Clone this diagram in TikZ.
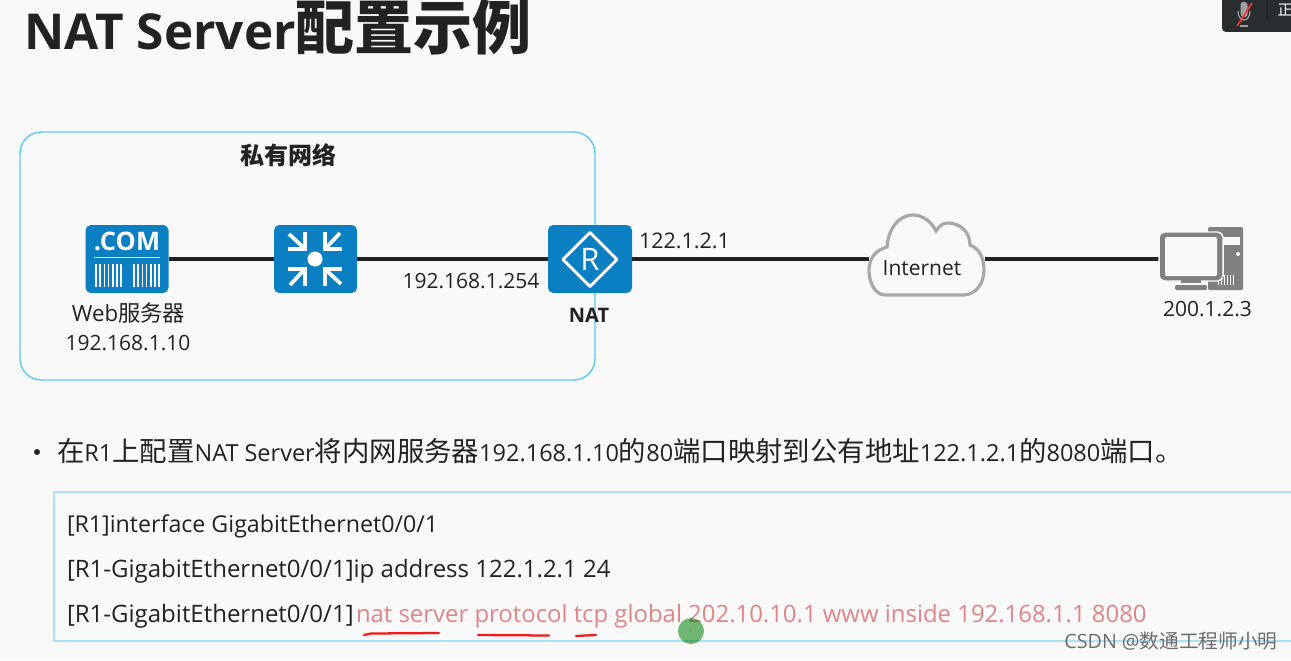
\documentclass[tikz,border=0pt]{standalone}
\usepackage{fontspec}
\setmainfont{Open Sans}
\newfontfamily\cjk{Noto Sans CJK SC}
\newcommand{\fsz}[1]{\fontsize{\dimexpr #1pt*3/4\relax}{\dimexpr #1pt*9/10\relax}\selectfont}
\definecolor{bgc}{HTML}{F9F9F9}
\definecolor{ink}{HTML}{222222}
\definecolor{iconblue}{HTML}{0A7FC1}
\definecolor{framec}{HTML}{5CCBF5}
\definecolor{codeframe}{HTML}{A9E2F8}
\definecolor{cloudc}{HTML}{A8A8A8}
\definecolor{pcgray}{HTML}{808080}
\definecolor{redtext}{HTML}{E08585}
\definecolor{penred}{HTML}{F01A1A}
\definecolor{panel}{HTML}{2A2D30}
\tikzset{
  lbl/.style={inner sep=0pt,outer sep=0pt,text=ink,anchor=base west},
  clbl/.style={inner sep=0pt,outer sep=0pt,text=ink,anchor=base},
  iconbox/.style={fill=iconblue,rounded corners=4,inner sep=0pt,minimum width=62.25pt,minimum height=51pt},
  link/.style={draw=ink,line width=2.4},
  whitebar/.style={draw=white,line width=1.1},
  swarrow/.style={draw=white,line width=2.8},
  penline/.style={draw=penred,line width=1.7,line cap=round},
}
\begin{document}
\begin{tikzpicture}[x=0.75pt,y=-0.75pt]
\useasboundingbox (0,0) rectangle (1291,660);
\clip (0,0) rectangle (1291,660);
\fill[bgc] (0,0) rectangle (1291,660);
% title
\node[lbl] (title) at (24.5,50) {\fsz{49.5}\bfseries NAT Server{\cjk\fsz{59}配置示例}};
% top-right panel
\fill[panel,rounded corners=3] (1222,-10) rectangle (1301,32);
\draw[black!85,line width=0.8] (1267,0) -- (1267,22);
\fill[gray!75,rounded corners=2] (1240.5,2) rectangle (1247.5,17);
\draw[gray!75,line width=0.9] (1238,11) .. controls (1238,23) and (1250,23) .. (1250,11);
\draw[gray!75,line width=1.1] (1240,26) -- (1248,26);
\draw[red!80!white,line width=1.2] (1237,26) -- (1252,3);
\node[inner sep=0pt,text=white] (panelchar) at (1285,10) {\cjk\fsz{15}正};
% private network frame
\node[draw=framec,line width=1.1,rounded corners=16,minimum width=431.25pt,minimum height=186pt,inner sep=0pt] (private) at (307.5,256) {};
\node[clbl] (privlabel) at (288,164) {\cjk\bfseries\fsz{24}私有网络};
% nodes
\node[iconbox] (web) at (127,259) {};
\node[iconbox] (sw) at (315.5,259) {};
\node[iconbox,minimum width=63pt] (nat) at (590,259) {};
\node[inner sep=0pt,minimum width=87pt,minimum height=60pt] (cloud) at (927,259) {};
\node[inner sep=0pt,minimum width=62.25pt,minimum height=47pt] (pc) at (1201.5,259) {};
% connectors
\draw[link] (web) -- (sw);
\draw[link] (sw) -- (nat);
\draw[link] (nat) -- (cloud);
\draw[link] (cloud) -- (pc);
% web icon
\node[inner sep=0pt,text=white] (comtxt) at (127,241) {\bfseries\fsz{25.5}.COM};
\draw[draw=white!85!iconblue,line width=1.2] (94,257.5) -- (160,257.5);
\foreach \x in {96,100.2,104.4,108.6,112.8,117,121.2,134,138.2,142.4,146.6,150.8,155,159.2}{
  \draw[whitebar] (\x,264) -- (\x,287);
}
% switch icon
\fill[white] (315,259) circle (7.5);
\foreach \r in {0,90,180,270}{
  \begin{scope}[shift={(315,259)},rotate=\r]
    \draw[swarrow,line join=miter] (-27,-10) -- (-10,-10) -- (-10,-27);
    \draw[swarrow] (-11,-11) -- (-26,-25);
  \end{scope}
}
% NAT icon
\draw[white,line width=2.2,line join=round] (590,232.5) -- (617,259.5) -- (590,286.5) -- (563,259.5) -- cycle;
\node[inner sep=0pt,text=white] (rtxt) at (590,259.5) {\fsz{31}R};
% cloud
\draw[cloudc,line width=2.4,fill=bgc] (885,295) -- (963,295) .. controls (976,295) and (984,283) .. (984,270)
  .. controls (984,256) and (978,248) .. (970,245) .. controls (970,232) and (960,223) .. (948,223)
  .. controls (943,223) and (939,226) .. (936,231) .. controls (931,221) and (922,215) .. (913,215)
  .. controls (898,215) and (888,230) .. (887,247) .. controls (876,250) and (869,258) .. (869,270)
  .. controls (869,284) and (876,295) .. (885,295) -- cycle;
\node[clbl] (inet) at (922,275.5) {\fsz{21}Internet};
% pc icon
\fill[pcgray,rounded corners=1] (1208,227) rectangle (1243,290);
\fill[bgc] (1224,237) rectangle (1240,245);
\fill[bgc] (1238,254) circle (2);
\foreach \x in {1218,1221,1224,1227,1230,1233}{
  \draw[bgc,line width=0.7] (\x,275) -- (\x,285);
}
\draw[bgc,line width=1.1,fill=pcgray,rounded corners=4] (1159,232) rectangle (1223,281);
\fill[bgc,rounded corners=1] (1165,237) rectangle (1217,276);
\fill[pcgray] (1181,280) rectangle (1201,283);
\fill[pcgray,rounded corners=1] (1175,285) rectangle (1207,290);
% labels
\node[clbl] (weblabel) at (128.5,321) {\fsz{22.3}Web{\cjk 服务器}};
\node[clbl] (webip) at (128,350) {\fsz{21}192.168.1.10};
\node[clbl] (natip) at (471,288) {\fsz{21}192.168.1.254};
\node[clbl] (natlabel) at (589,322) {\bfseries\fsz{20}NAT};
\node[clbl] (wanip) at (684.5,248) {\fsz{21.5}122.1.2.1};
\node[clbl] (pcip) at (1207.5,316) {\fsz{21}200.1.2.3};
% bullet and sentence
\fill[ink] (37,452) circle (3);
\node[lbl] (sentence) at (57,461) {\fsz{23.5}{\cjk\fsz{27.4}在}R1{\cjk\fsz{27.4}上配置}NAT Server{\cjk\fsz{27.4}将内网服务器}192.168.1.10{\cjk\fsz{27.4}的}80{\cjk\fsz{27.4}端口映射到公有地址}122.1.2.1{\cjk\fsz{27.4}的}8080{\cjk\fsz{27.4}端口。}};
% code box
\draw[codeframe,line width=1.1] (1300,492) -- (54,492) -- (54,641) -- (1300,641);
\node[lbl] (code1) at (67,532) {\fsz{23.2}[R1]interface GigabitEthernet0/0/1};
\node[lbl] (code2) at (67,577) {\fsz{24}[R1-GigabitEthernet0/0/1]ip address 122.1.2.1 24};
\node[lbl] (code3) at (67,622) {\fsz{24}[R1-GigabitEthernet0/0/1]};
\node[lbl,text=redtext] (code3b) at (356,622) {\fsz{23.9}nat server protocol tcp global 202.10.10.1 www inside 192.168.1.1 8080};
% pen marks
\draw[penline] (364,635) -- (371,633.5) -- (439,633);
\draw[penline] (478,635) -- (549,635.5);
\draw[penline] (576,636) -- (596,635);
\fill[green!50!black,opacity=0.55] (691,631) circle (13);
\node[inner sep=0pt,text=gray] (cursor) at (691,631) {\fsz{7}$\diamond$};
% watermark
\node[clbl,text=gray!85!black] (wm) at (1171,648) {\fsz{19.7}CSDN @{\cjk 数通工程师小明}};
\end{tikzpicture}
\end{document}
